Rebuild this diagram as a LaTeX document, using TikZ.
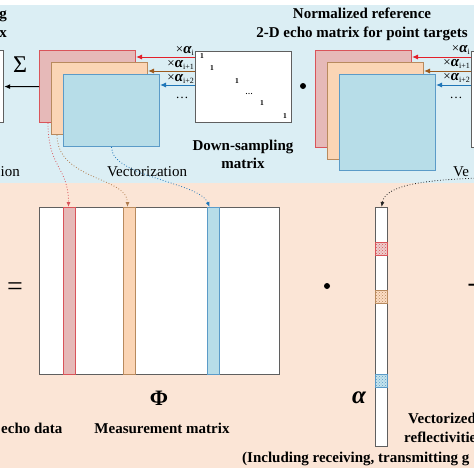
\documentclass[tikz,border=0pt]{standalone}
\usepackage{fontspec}
\setmainfont{Liberation Serif}
\usetikzlibrary{arrows.meta,patterns,positioning}
\definecolor{bandblue}{HTML}{DBEEF4}
\definecolor{bandpeach}{HTML}{FBE5D6}
\definecolor{redfill}{HTML}{E6B9B8}
\definecolor{redline}{HTML}{D9545A}
\definecolor{orangefill}{HTML}{FBD5B5}
\definecolor{orangeline}{HTML}{B88A5E}
\definecolor{bluefill}{HTML}{B7DDE8}
\definecolor{blueline}{HTML}{5B9BC8}
\definecolor{redarrow}{HTML}{E3202A}
\definecolor{orangearrow}{HTML}{9C5A1E}
\definecolor{bluearrow}{HTML}{1F76B8}
\definecolor{boxline}{HTML}{5F5F5F}

\tikzset{
  lbl/.style={font=\fontsize{15}{17}\selectfont\bfseries, inner sep=0pt},
  plainlbl/.style={font=\fontsize{15}{17}\selectfont, inner sep=0pt},
  mat/.style={draw=boxline, line width=1.2pt, fill=white, anchor=north west, inner sep=0pt},
  sheet/.style={line width=1pt, anchor=north west, minimum width=96pt, inner sep=0pt},
  strip/.style={line width=1pt, anchor=north west, minimum width=12pt, minimum height=167pt, inner sep=0pt},
  patch/.style={line width=0.8pt, anchor=north west, minimum width=12pt, minimum height=13pt, inner sep=0pt, pattern=crosshatch dots},
  weight/.style={font=\fontsize{13}{14}\selectfont, inner sep=0pt, anchor=base east},
  one/.style={font=\fontsize{7.5}{9}\selectfont\bfseries, inner sep=0pt},
  prod/.style={circle, fill=black, inner sep=0pt, minimum size=6pt},
  wire/.style={line width=1pt, -{Latex[length=6pt,width=5pt]}},
  link/.style={dotted, line width=0.8pt, -{Latex[length=5pt,width=4pt]}}
}

\newcommand\wt[1]{×{\fontsize{15}{15}\selectfont\bfseries\itshape α}\raisebox{-2pt}{\fontsize{8}{8}\selectfont #1}}

\begin{document}
\begin{tikzpicture}[x=1pt,y=-1pt]
        \useasboundingbox (0,0) rectangle (474,474);
        % background bands
        \fill[white] (0,0) rectangle (474,474);
        \fill[bandblue] (0,5) rectangle (474,183);
        \fill[bandpeach] (0,183) rectangle (474,468);

        \coordinate (rowA) at (0,57);
        \coordinate (rowB) at (0,71);
        \coordinate (rowC) at (0,85);

        % upper row: sum of weighted echo matrices
        \path
        (-60,50) node[mat, minimum width=63pt, minimum height=72pt] (sumbox) {}
        (39,50) node[sheet, draw=redline, fill=redfill, minimum height=72pt] (redL) {}
        (51,62) node[sheet, draw=orangeline, fill=orangefill, minimum height=72pt] (orangeL) {}
        (63,74) node[sheet, draw=blueline, fill=bluefill, minimum height=72pt] (blueL) {}
        (195,51) node[mat, minimum width=96pt, minimum height=71pt] (dsm) {}
        (315,50) node[sheet, draw=redline, fill=redfill, minimum height=97pt] (redR) {}
        (327,62) node[sheet, draw=orangeline, fill=orangefill, minimum height=97pt] (orangeR) {}
        (339,74) node[sheet, draw=blueline, fill=bluefill, minimum height=96pt] (blueR) {}
        (471,51) node[mat, minimum width=64pt, minimum height=96pt] (refbox) {}
        ;

        % ones on the diagonal
        \path
        (202,56) node[one] (oneA) {1}
        (212,68) node[one] (oneB) {1}
        (237,81) node[one] (oneC) {1}
        (249,94) node[one] (oneD) {\dots}
        (262,103) node[one] (oneE) {1}
        (285,116) node[one] (oneF) {1}
        ;

        \draw[wire, redarrow] (dsm.west |- rowA) -- (redL.east |- rowA);
        \draw[wire, orangearrow] (dsm.west |- rowB) -- (orangeL.east |- rowB);
        \draw[wire, bluearrow] (dsm.west |- rowC) -- (blueL.east |- rowC);
        \draw[wire, redarrow] (refbox.west |- rowA) -- (redR.east |- rowA);
        \draw[wire, orangearrow] (refbox.west |- rowB) -- (orangeR.east |- rowB);
        \draw[wire, bluearrow] (refbox.west |- rowC) -- (blueR.east |- rowC);
        \draw[wire, black] (redL.west) -- (sumbox.east);

        \path
        (194,53) node[weight] (wAL) {\wt{i}}
        (194,67) node[weight] (wBL) {\wt{i+1}}
        (194,81) node[weight] (wCL) {\wt{i+2}}
        (182,98) node[weight, anchor=center] (dotsL) {\dots}
        (470,52) node[weight] (wAR) {\wt{i}}
        (470,66) node[weight] (wBR) {\wt{i+1}}
        (470,80) node[weight] (wCR) {\wt{i+2}}
        (456,98) node[weight, anchor=center] (dotsR) {\dots}
        (20,65) node[font=\fontsize{24}{26}\selectfont, inner sep=0pt] (sigma) {Σ}
        (303,86) node[prod] (prodA) {}
        ;

        % upper texts
        \path
        (7,18) node[lbl, anchor=base east] (ttlA) {g}
        (7,37) node[lbl, anchor=base east] (ttlB) {x}
        (362,18) node[lbl, anchor=base] (refA) {Normalized reference}
        (362,37) node[lbl, anchor=base] (refB) {2-D echo matrix for point targets}
        (243,150) node[lbl, anchor=base] (dsmA) {Down-sampling}
        (243,168) node[lbl, anchor=base] (dsmB) {matrix}
        (20,176) node[plainlbl, anchor=base east] (sumtxt) {ion}
        (147,176) node[plainlbl, anchor=base] (vecL) {Vectorization}
        (453,176) node[plainlbl, anchor=base west] (vecR) {Ve}
        ;

        % lower row: measurement model
        \path
        (39,207) node[mat, minimum width=240pt, minimum height=167pt] (phi) {}
        (63,207) node[strip, draw=redline, fill=redfill] (redS) {}
        (123,207) node[strip, draw=orangeline, fill=orangefill] (orangeS) {}
        (207,207) node[strip, draw=blueline, fill=bluefill] (blueS) {}
        (375,207) node[mat, minimum width=12pt, minimum height=239pt] (alphavec) {}
        (375,242) node[patch, draw=redline, pattern color=redline, preaction={fill=redfill!70}] (redP) {}
        (375,290) node[patch, draw=orangeline, pattern color=orangeline, preaction={fill=orangefill!80}] (orangeP) {}
        (375,374) node[patch, draw=blueline, pattern color=blueline, preaction={fill=bluefill!80}] (blueP) {}
        (15,289) node[font=\fontsize{28}{30}\selectfont, inner sep=0pt] (eqsign) {=}
        (327,286) node[prod] (prodB) {}
        (475,287) node[font=\fontsize{28}{30}\selectfont\bfseries, inner sep=0pt] (plusR) {+}
        (159,398) node[font=\fontsize{22}{24}\selectfont\bfseries, inner sep=0pt] (phiname) {Φ}
        (359,398) node[font=\fontsize{25}{27}\selectfont\bfseries\itshape, inner sep=0pt] (alphaname) {α}
        ;

        \coordinate (vecsrc) at (480,178);
        \draw[link, redline] ([xshift=9pt]redL.south west) .. controls +(0,45) and +(0,-40) .. ([xshift=-1pt]redS.north);
        \draw[link, orangearrow!80] ([xshift=6pt]orangeL.south west) .. controls +(0,45) and +(0,-30) .. ([xshift=-2pt]orangeS.north);
        \draw[link, bluearrow] (blueL.south) .. controls +(0,30) and +(-10,-25) .. ([xshift=-4pt]blueS.north);
        \draw[link, black!85] (vecsrc) .. controls (420,180) and (385,186) .. (alphavec.north);

        % lower texts
        \path
        (1,433) node[lbl, anchor=base west] (datatxt) {echo data}
        (162,433) node[lbl, anchor=base] (phitxt) {Measurement matrix}
        (408,423) node[lbl, anchor=base west] (alphaA) {Vectorized}
        (404,442) node[lbl, anchor=base west] (alphaB) {reflectivitie}
        (242,462) node[lbl, anchor=base west] (alphaC) {(Including receiving, transmitting g}
        ;
      \end{tikzpicture}
\end{document}
